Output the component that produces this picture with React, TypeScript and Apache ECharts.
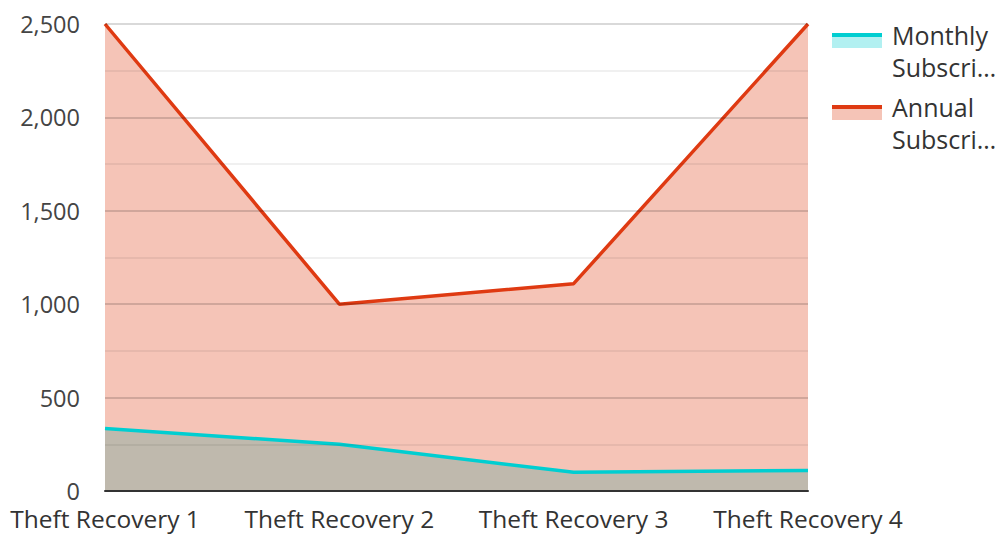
import React, { useEffect, useRef } from "react";
import * as echarts from "echarts";

const categories = ["Theft Recovery 1", "Theft Recovery 2", "Theft Recovery 3", "Theft Recovery 4"];
const monthlyValues = [335, 250, 100, 110];
const annualValues = [2500, 1000, 1110, 2500];
const legendNames = ["Monthly\nSubscri…", "Annual\nSubscri…"];

const CYAN = "#00CED1";
const RED = "#DF3A12";
const FONT = "Open Sans";

export default function App() {
  const ref = useRef<HTMLDivElement>(null);
  useEffect(() => {
    if (!ref.current) return;
    const chart = echarts.init(ref.current, undefined, { renderer: "svg" });
    const legendItem = (y: number, color: string, text: string) => ({
      type: "group",
      x: 832,
      y,
      children: [
        { type: "rect", shape: { x: 0, y: 4, width: 50, height: 11 }, style: { fill: color, opacity: 0.3 } },
        { type: "rect", shape: { x: 0, y: 0, width: 50, height: 4 }, style: { fill: color } },
        {
          type: "text",
          x: 60,
          y: -14,
          style: { text, font: `25px "${FONT}"`, fill: "#333", lineHeight: 32, verticalAlign: "top" },
        },
      ],
    });
    chart.setOption({
      animation: false,
      grid: { left: 105, right: 189, top: 24, bottom: 43, containLabel: false },
      xAxis: {
        type: "category",
        data: categories,
        boundaryGap: false,
        axisLine: { lineStyle: { color: "#333", width: 2 } },
        axisTick: { show: false },
        axisLabel: { color: "#333", fontFamily: FONT, fontSize: 24.5, margin: 15, interval: 0, hideOverlap: false },
        z: 10,
      },
      yAxis: {
        type: "value",
        min: 0,
        max: 2500,
        interval: 500,
        axisLine: { show: false },
        axisTick: { show: false },
        axisLabel: {
          color: "#444",
          fontFamily: FONT,
          fontSize: 23.5,
          margin: 25,
          formatter: (v: number) => v.toLocaleString("en-US"),
        },
        splitLine: { lineStyle: { color: "rgba(0,0,0,0.2)", width: 1.5 } },
        minorTick: { show: false, splitNumber: 2 },
        minorSplitLine: { show: true, lineStyle: { color: "rgba(0,0,0,0.08)", width: 1.5 } },
        z: 10,
      },
      series: [
        {
          name: "Monthly area",
          type: "line",
          data: monthlyValues,
          symbol: "none",
          lineStyle: { width: 0 },
          areaStyle: { color: CYAN, opacity: 0.3 },
          z: 1,
        },
        {
          name: "Annual",
          type: "line",
          data: annualValues,
          symbol: "none",
          lineStyle: { color: RED, width: 3.5 },
          areaStyle: { color: RED, opacity: 0.3 },
          z: 2,
        },
        {
          name: "Monthly",
          type: "line",
          data: monthlyValues,
          symbol: "none",
          lineStyle: { color: CYAN, width: 3.5 },
          z: 3,
        },
      ],
      graphic: [legendItem(33, CYAN, legendNames[0]), legendItem(105, RED, legendNames[1])],
    });
    return () => chart.dispose();
  }, []);
  return <div ref={ref} style={{ width: 997, height: 534, position: "absolute", left: 0, top: 0 }} />;
}
